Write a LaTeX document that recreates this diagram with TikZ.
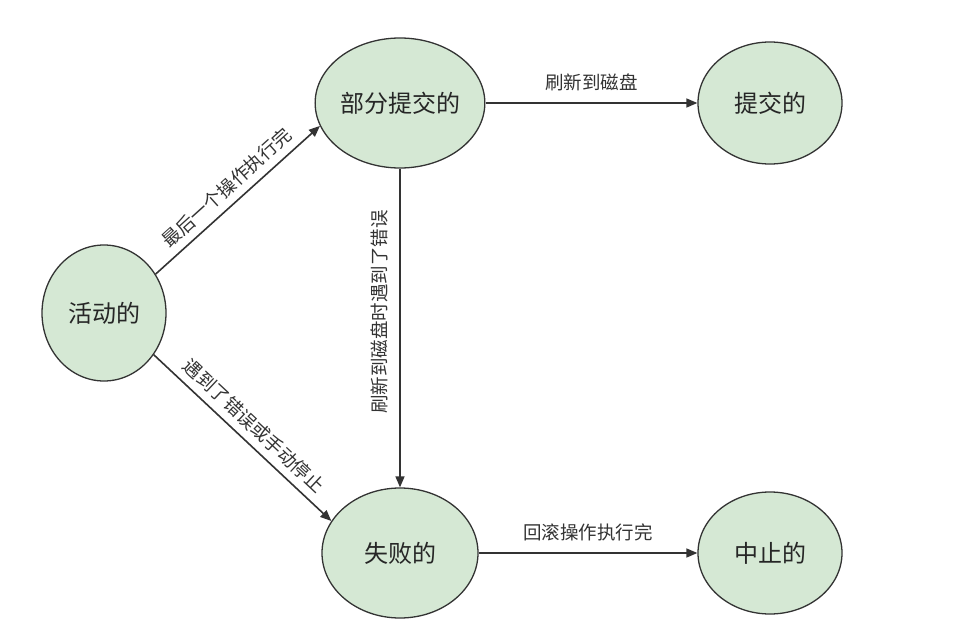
\documentclass[tikz,border=0pt]{standalone}
\usepackage{fontspec}
\setmainfont{Noto Sans CJK SC}
\usetikzlibrary{shapes.geometric,arrows.meta}
\begin{document}
\begin{tikzpicture}[x=1pt,y=-1pt,
  st/.style={ellipse,draw=black!80,line width=1.3pt,fill={rgb,255:red,213;green,232;blue,212},font=\fontsize{24}{28}\selectfont,text=black!85,inner sep=0pt},
  big/.style={st,minimum width=156pt,minimum height=130pt},
  small/.style={st,minimum width=144pt,minimum height=122pt},
  act/.style={st,minimum width=124pt,minimum height=136pt},
  ar/.style={draw=black!80,line width=1.6pt,-{Triangle[length=11pt,width=9pt]}},
  lb/.style={font=\fontsize{18.5}{22}\selectfont,text=black!80}]
\useasboundingbox[fill=white] (0,0) rectangle (975,642);
\node[big] (part) at (400,103) {部分提交的};
\node[small] (com) at (770,103) {提交的};
\node[act] (actn) at (104,313) {活动的};
\node[big] (fail) at (400,553) {失败的};
\node[small] (abt) at (770,553) {中止的};
\draw[ar] (part) -- node[lb,above=8pt] {刷新到磁盘} (com);
\draw[ar] (fail) -- node[lb,above=8pt] {回滚操作执行完} (abt);
\draw[ar] (actn.37) -- node[lb,sloped,above=4pt] {最后一个操作执行完} (part.196);
\draw[ar] (actn.-40) -- node[lb,sloped,above=4pt] {遇到了错误或手动停止} (fail.155);
\draw[ar] (part) -- node[lb,rotate=90,anchor=south,yshift=8pt,pos=0.45] {刷新到磁盘时遇到了错误} (fail);
\end{tikzpicture}
\end{document}
